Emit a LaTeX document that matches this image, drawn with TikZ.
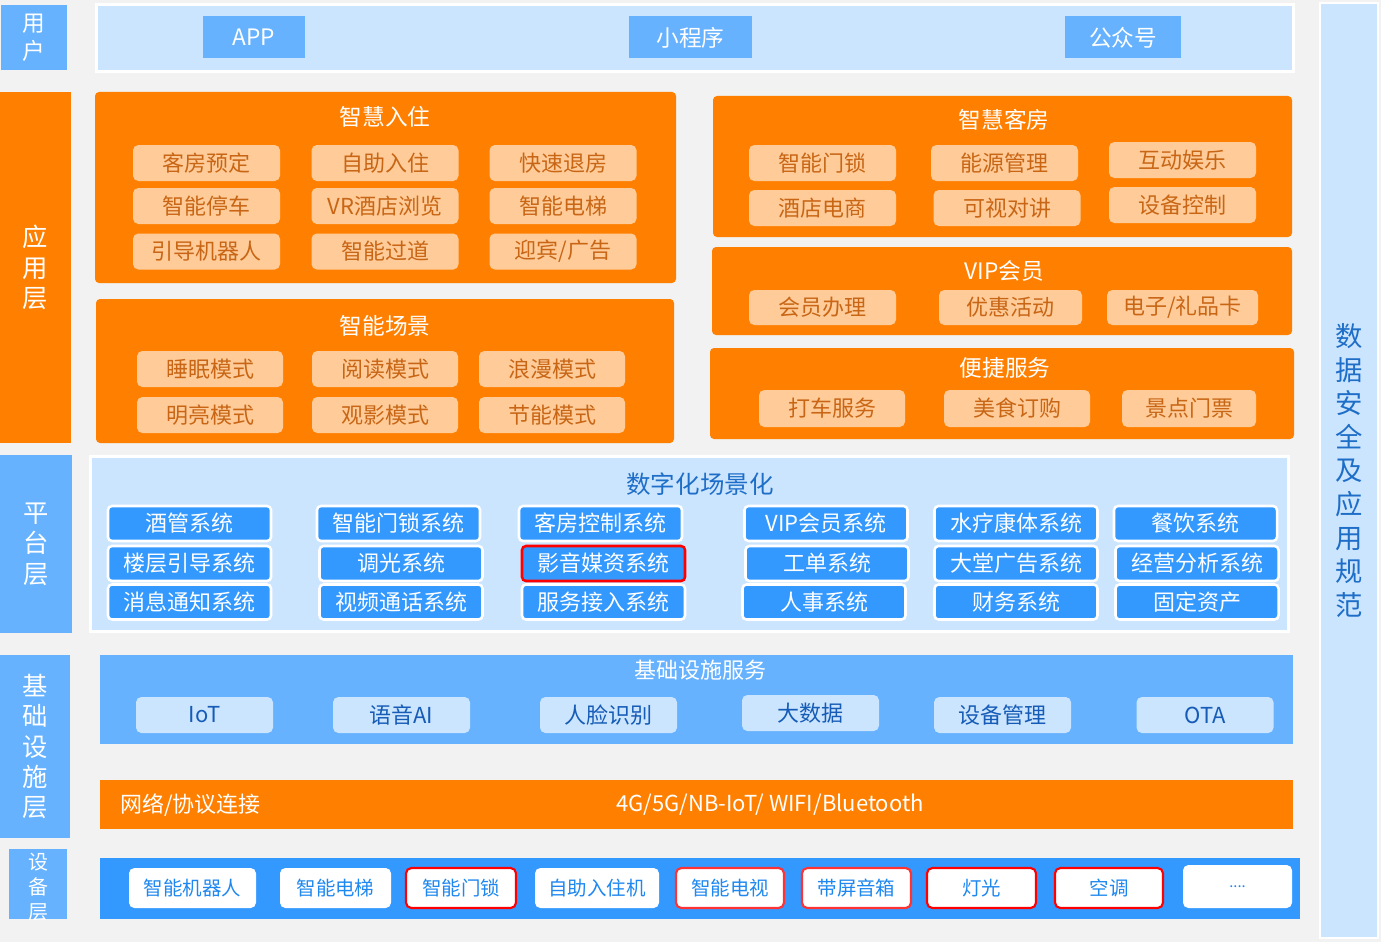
\documentclass[tikz,border=0pt]{standalone}
\usepackage{fontspec}
\setmainfont{Noto Sans CJK SC}
\usepackage{xcolor}
\definecolor{appOrange}{RGB}{255,128,0}
\definecolor{chipPeach}{RGB}{255,204,153}
\definecolor{chipBrown}{RGB}{200,102,22}
\definecolor{paleBlue}{RGB}{204,229,255}
\definecolor{midBlue}{RGB}{102,178,255}
\definecolor{sysBlue}{RGB}{51,153,255}
\definecolor{titleBlue}{RGB}{30,110,200}
\definecolor{infraText}{RGB}{22,92,182}
\definecolor{devText}{RGB}{30,136,240}
\definecolor{canvas}{RGB}{242,242,242}

\tikzset{
  box/.style 2 args={minimum width=#1*0.75pt, minimum height=#2*0.75pt, inner sep=0pt},
  layerlbl/.style={fill=#1, text=white, align=center},
  panel/.style={fill=appOrange, rounded corners=3pt},
  paneltitle/.style={text=white, font=\fontsize{17pt}{20pt}\selectfont},
  appchip/.style={fill=chipPeach, rounded corners=4pt, text=chipBrown,
    font=\fontsize{16.5pt}{19pt}\selectfont, box={147}{36}},
  syschip/.style={fill=sysBlue, draw=white, line width=1.9pt, rounded corners=3pt,
    text=white, font=\fontsize{16.5pt}{19pt}\selectfont, box={163}{35}},
  infrachip/.style={fill=paleBlue, rounded corners=4pt, text=infraText,
    font=\fontsize{16.5pt}{19pt}\selectfont, box={137}{36}},
  devchip/.style={fill=white, rounded corners=4pt, text=devText,
    font=\fontsize{14.6pt}{17pt}\selectfont},
  redchip/.style={devchip, draw=red, line width=1.6pt},
}

\begin{document}
\begin{tikzpicture}[x=0.75pt, y=-0.75pt]
\fill[canvas] (0,0) rectangle (1381,942);
\useasboundingbox (0,0) rectangle (1381,942);

% layer labels on the left
\node[layerlbl=midBlue, box={66}{65}, font=\fontsize{17pt}{21pt}\selectfont] (userlbl) at (34,37.5) {用\\户};
\node[layerlbl=appOrange, box={71}{351}, font=\fontsize{19pt}{22.8pt}\selectfont] (applbl) at (35.5,267.5) {应\\用\\层};
\node[layerlbl=midBlue, box={72}{178}, font=\fontsize{19pt}{22.8pt}\selectfont] (platlbl) at (36,544) {平\\台\\层};
\node[layerlbl=midBlue, box={70}{183}, font=\fontsize{19pt}{22.8pt}\selectfont] (infralbl) at (35,746.5) {基\\础\\设\\施\\层};
\node[layerlbl=midBlue, box={58}{70}] (devlbl) at (38,884) {};
\begin{scope}
  \clip (devlbl.south west) rectangle (devlbl.north east);
  \node[text=white, align=center, font=\fontsize{15pt}{18.75pt}\selectfont] (devlbltxt) at (38,887) {设\\备\\层};
\end{scope}

% data security column on the right
\node[fill=paleBlue, draw=white, line width=1.5pt, box={58}{935}, text=titleBlue, align=center,
  font=\fontsize{20.5pt}{25.2pt}\selectfont] (secure) at (1349,470.5) {数\\据\\安\\全\\及\\应\\用\\规\\范};

% user layer
\node[fill=paleBlue, draw=white, line width=2.2pt, box={1197}{67}] (userbar) at (695,38) {};
\foreach \t/\x/\w [count=\i] in {APP/254/102, 小程序/690.5/123, 公众号/1123/116}
  \node[fill=midBlue, text=white, box={\w}{42}, font=\fontsize{17pt}{20pt}\selectfont] (user\i) at (\x,37.5) {\t};

% application layer
\node[panel, box={581}{191}] (checkin) at (385.5,187.5) {};
\node[paneltitle] (checkinT) at (385,117) {智慧入住};
\foreach \t/\x/\y [count=\i] in {客房预定/206.5/163, 自助入住/385/163, 快速退房/563/163,
    智能停车/206.5/206, VR酒店浏览/385/206, 智能电梯/563/206,
    引导机器人/206.5/251.5, 智能过道/385/251.5, {迎宾/广告}/563/251.5}
  \node[appchip] (checkin\i) at (\x,\y) {\t};

\node[panel, box={578}{144}] (scene) at (385,371) {};
\node[paneltitle] (sceneT) at (385,326) {智能场景};
\foreach \t/\x/\y [count=\i] in {睡眠模式/210/369, 阅读模式/385/369, 浪漫模式/552/369,
    明亮模式/210/415, 观影模式/385/415, 节能模式/552/415}
  \node[appchip, box={146}{36}] (scene\i) at (\x,\y) {\t};

\node[panel, box={579}{141}] (room) at (1002.5,166.5) {};
\node[paneltitle] (roomT) at (1004,120) {智慧客房};
\foreach \t/\x/\y [count=\i] in {智能门锁/822.5/163, 能源管理/1004.5/163, 互动娱乐/1182.5/160,
    酒店电商/822.5/208, 可视对讲/1007/208, 设备控制/1182.5/205}
  \node[appchip] (room\i) at (\x,\y) {\t};

\node[panel, box={580}{88}] (vip) at (1002,291) {};
\node[paneltitle] (vipT) at (1004,271) {VIP会员};
\foreach \t/\x/\w [count=\i] in {会员办理/822.5/147, 优惠活动/1010.5/143, {电子/礼品卡}/1182.5/151}
  \node[appchip, box={\w}{35}] (vip\i) at (\x,307.5) {\t};

\node[panel, box={584}{91}] (service) at (1002,393.5) {};
\node[paneltitle] (serviceT) at (1005,368) {便捷服务};
\foreach \t/\x/\w [count=\i] in {打车服务/832/146, 美食订购/1017/146, 景点门票/1189/134}
  \node[appchip, box={\w}{37}] (service\i) at (\x,408.5) {\t};

% platform layer
\node[fill=paleBlue, draw=white, line width=2.2pt, box={1198}{175}] (platform) at (689.5,544) {};
\node[text=titleBlue, font=\fontsize{18.4pt}{21pt}\selectfont] (platformT) at (700,484) {数字化场景化};
\foreach \t/\x/\y [count=\i] in {酒管系统/189.5/523.5, 楼层引导系统/189.5/563.5, 消息通知系统/189.5/602,
    智能门锁系统/398.5/523.5, 调光系统/401/563.5, 视频通话系统/401/602,
    客房控制系统/600.5/523.5, 服务接入系统/603.5/602,
    VIP会员系统/826/523.5, 工单系统/827/563.5, 人事系统/824/602,
    水疗康体系统/1016/523.5, 大堂广告系统/1016/563.5, 财务系统/1016/602,
    餐饮系统/1195.5/523.5, 经营分析系统/1197/563.5, 固定资产/1197/602}
  \node[syschip] (sys\i) at (\x,\y) {\t};
\node[syschip, draw=red] (media) at (603.5,563.5) {影音媒资系统};

% infrastructure layer
\node[fill=midBlue, box={1193}{89}] (infra) at (696.5,699.5) {};
\node[text=white, font=\fontsize{16.5pt}{19pt}\selectfont] (infraT) at (700,670) {基础设施服务};
\foreach \t/\x/\y [count=\i] in {IoT/204.5/715, 语音AI/401.5/715, 人脸识别/608.5/715,
    大数据/810.5/713, 设备管理/1002.5/715, OTA/1205/715}
  \node[infrachip] (infra\i) at (\x,\y) {\t};

\node[fill=appOrange, box={1193}{49}] (netbar) at (696.5,804.5) {};
\node[anchor=west, text=white, inner sep=0pt, font=\fontsize{16.5pt}{19pt}\selectfont] (netlbl) at (120,805) {网络/协议连接};
\node[text=white, font=\fontsize{16.5pt}{19pt}\selectfont] (netproto) at (770,805) {4G/5G/NB-IoT/ WIFI/Bluetooth};

% device layer
\node[fill=sysBlue, box={1200}{61}] (devbar) at (700,888.5) {};
\node[devchip, box={127}{40}] (dev1) at (192.5,888) {智能机器人};
\node[devchip, box={111}{40}] (dev2) at (335.5,888) {智能电梯};
\node[redchip, box={110}{40}] (dev3) at (461,888) {智能门锁};
\node[devchip, box={124}{40}] (dev4) at (597,888) {自助入住机};
\node[redchip, draw=red!80, box={108}{40}] (dev5) at (730,888) {智能电视};
\node[redchip, draw=red!80, box={109}{40}] (dev6) at (856.5,888) {带屏音箱};
\node[redchip, box={109}{40}] (dev7) at (981.5,888) {灯光};
\node[redchip, box={108}{40}] (dev8) at (1109,888) {空调};
\node[devchip, box={109}{43}, font=\fontsize{11pt}{13pt}\selectfont] (dev9) at (1237.5,886.5) {....};
\end{tikzpicture}
\end{document}
